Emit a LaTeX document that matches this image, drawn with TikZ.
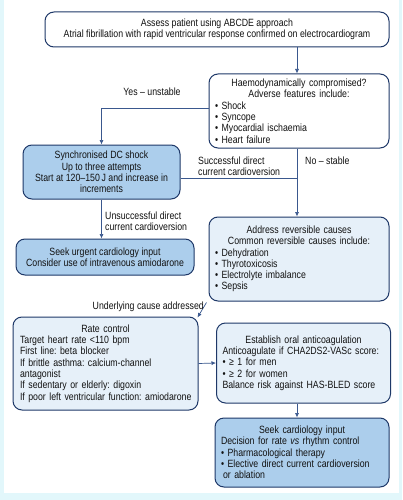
\documentclass[tikz,border=0pt]{standalone}
\usepackage{fontspec}
\setmainfont{Liberation Sans}[FakeStretch=0.835]
\usepackage{tikz}
\usetikzlibrary{arrows.meta, positioning, calc}
\definecolor{afnavy}{RGB}{30,56,104}
\definecolor{afline}{RGB}{58,88,142}
\definecolor{afmid}{RGB}{172,206,236}
\definecolor{aflight}{RGB}{230,240,249}
\definecolor{afframe}{RGB}{226,247,251}
\definecolor{aftext}{RGB}{18,18,18}
\newcommand{\ctrline}[1]{\leavevmode\hbox to \hsize{\hss#1\hss}}
\frenchspacing

\begin{document}
\begin{tikzpicture}[x=1pt, y=-1pt, font=\fontsize{10.5}{11.3}\selectfont, >={Latex[length=4.5pt,width=4pt]},
  box/.style={draw=afnavy, line width=1pt, rounded corners=9pt, text=aftext, inner xsep=6pt, inner ysep=2pt},
  arr/.style={->, afline, line width=0.7pt},
  link/.style={afline, line width=0.7pt},
  lab/.style={text=aftext, inner sep=1pt}]
  % ---- frame ----
  \useasboundingbox (0,0) rectangle (402,500);
  \fill[afframe] (0,0) rectangle (402,500);
  \fill[white] (4,0) rectangle (399,493);
  \coordinate (spine) at (297,0);                 % right-hand column of arrows
  % ---- boxes ----
  \node[box, fill=white, minimum width=344, minimum height=35, align=center] (assess) at (217,29.5)
    {Assess patient using ABCDE approach\\Atrial fibrillation with rapid ventricular response confirmed on electrocardiogram};
  \node[box, fill=white, minimum width=180, minimum height=74, text width=168, align=left] (haemo) at (299,111)
    {\ctrline{Haemodynamically compromised?}\\\ctrline{Adverse features include:}\\
     • Shock\\• Syncope\\• Myocardial ischaemia\\• Heart failure};
  \node[box, fill=afmid, minimum width=157, minimum height=54, align=center] (shock) at (101.5,172)
    {Synchronised DC shock\\Up to three attempts\\Start at 120–150\,J and increase in\\increments};
  \node[box, fill=afmid, minimum width=178, minimum height=36, align=center] (urgent) at (105,257)
    {Seek urgent cardiology input\\Consider use of intravenous amiodarone};
  \node[box, fill=aflight, minimum width=180, minimum height=84, text width=168, align=left] (causes) at (299,259)
    {\ctrline{Address reversible causes}\\\ctrline{Common reversible causes include:}\\
     • Dehydration\\• Thyrotoxicosis\\• Electrolyte imbalance\\• Sepsis};
  \node[box, fill=aflight, minimum width=185, minimum height=93, text width=171, align=left] (rate) at (105.5,363.5)
    {\ctrline{Rate control}\\Target heart rate <110 bpm\\First line: beta blocker\\
     \mbox{If brittle asthma: calcium-channel}\\antagonist\\\mbox{If sedentary or elderly: digoxin}\\
     \mbox{If poor left ventricular function: amiodarone}};
  \node[box, fill=aflight, minimum width=171, minimum height=80, text width=162, align=left] (anticoag) at (303.5,363)
    {\ctrline{Establish oral anticoagulation}\\\mbox{Anticoagulate if CHA2DS2-VASc score:}\\
     • ≥ 1 for men\\• ≥ 2 for women\\\mbox{Balance risk against HAS-BLED score}};
  \node[box, fill=afmid, minimum width=174, minimum height=69, text width=162, align=left] (cardio) at (302,452.5)
    {\ctrline{Seek cardiology input}\\\mbox{Decision for rate \textit{vs} rhythm control}\\
     • Pharmacological therapy\\\mbox{• Elective direct current cardioversion}\\\hspace*{2pt}or ablation};
  % ---- connectors ----
  \coordinate (succ) at ($(shock.east)+(0,6)$);   % joins the "no" line
  \draw[arr] (assess.south -| spine) -- (haemo.north -| spine);
  \draw[arr] ($(haemo.west)+(0,-3)$) -| (shock.north);
  \draw[arr] (haemo.south -| spine) -- (causes.north -| spine);
  \draw[link] (succ) -- (succ -| spine);
  \draw[arr] (shock.south) -- (urgent.north -| shock.south);
  \draw[arr] ($(causes.south west)+(-2,1)$) -- ($(rate.north east)+(-1,1)$);
  \draw[arr] (rate.east) -- (anticoag.west);
  \draw[arr] (anticoag.south -| spine) -- (cardio.north -| spine);
  % ---- connector labels ----
  \node[lab] (yeslab) at (152,92) {Yes – unstable};
  \node[lab, align=left, anchor=west] (succlab) at (197,166) {Successful direct\\current cardioversion};
  \node[lab, anchor=west] (nolab) at (304,161) {No – stable};
  \node[lab, align=left, anchor=west] (unsucclab) at (104,221) {Unsuccessful direct\\current cardioversion};
  \node[lab, anchor=east] (underlab) at (205,307) {Underlying cause addressed};
\end{tikzpicture}
\end{document}
